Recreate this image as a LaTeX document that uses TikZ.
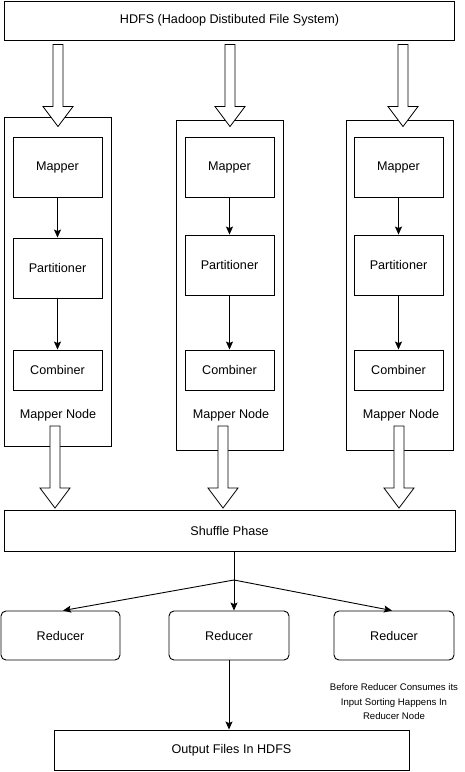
\documentclass[tikz,border=0pt]{standalone}
\usepackage{fontspec}
\setmainfont{Liberation Sans}
\usetikzlibrary{arrows.meta}
\begin{document}
\begin{tikzpicture}[x=1pt,y=-1pt,
  line width=0.9pt,
  every node/.style={font=\fontsize{12.6}{15}\selectfont},
  box/.style={draw, rectangle, inner sep=0pt},
  rbox/.style={draw, rectangle, rounded corners=5pt, inner sep=0pt},
  lbl/.style={inner sep=0pt},
  note/.style={inner sep=0pt, align=center, font=\fontsize{9.6}{14.5}\selectfont},
  arr/.style={-{Stealth[length=8pt,width=7pt,inset=1.5pt]}},
  barrow/.pic={\draw[fill=white, line width=0.8pt] (-5,0) -- (-5,62) -- (-15,62) -- (0,82) -- (15,62) -- (5,62) -- (5,0) -- cycle;}
]
\useasboundingbox (0,0) rectangle (465,772);

% top
\node[box, minimum width=450pt, minimum height=39pt] (hdfs) at (229.5,20.5) {HDFS (Hadoop Distibuted File System)};

% containers
\node[box, minimum width=107pt, minimum height=329pt] (c1) at (57.5,281.5) {};
\node[box, minimum width=107pt, minimum height=330pt] (c2) at (229.5,285) {};
\node[box, minimum width=107pt, minimum height=330pt] (c3) at (399.5,285) {};

% top block arrows
\pic at (58,44.5) {barrow};
\pic at (230,44.5) {barrow};
\pic at (403,44.5) {barrow};

% mappers
\node[box, minimum width=89pt, minimum height=60pt] (m1) at (57.5,167) {Mapper};
\node[box, minimum width=89pt, minimum height=60pt] (m2) at (229.5,167) {Mapper};
\node[box, minimum width=89pt, minimum height=60pt] (m3) at (398.5,167) {Mapper};

% partitioners
\node[box, minimum width=89pt, minimum height=60pt] (p1) at (57.5,268) {Partitioner};
\node[box, minimum width=89pt, minimum height=60pt] (p2) at (229.5,265) {Partitioner};
\node[box, minimum width=89pt, minimum height=60pt] (p3) at (398.5,265) {Partitioner};

% combiners
\node[box, minimum width=89pt, minimum height=40pt] (k1) at (57.5,370) {Combiner};
\node[box, minimum width=89pt, minimum height=40pt] (k2) at (229.5,370) {Combiner};
\node[box, minimum width=89pt, minimum height=40pt] (k3) at (398.5,370) {Combiner};

% mapper node labels
\node[lbl] (ml1) at (58,415) {Mapper Node};
\node[lbl] (ml2) at (231,415) {Mapper Node};
\node[lbl] (ml3) at (401,415) {Mapper Node};

% internal arrows
\draw[arr] (m1) -- (p1);
\draw[arr] (m2) -- (p2);
\draw[arr] (m3) -- (p3);
\draw[arr] (p1) -- (k1);
\draw[arr] (p2) -- (k2);
\draw[arr] (p3) -- (k3);

% bottom block arrows
\pic at (55,426) {barrow};
\pic at (223,426) {barrow};
\pic at (399,426) {barrow};

% shuffle
\node[box, minimum width=451pt, minimum height=41pt, fill=white] (sh) at (229.5,530.5) {Shuffle Phase};

% reducers
\node[rbox, minimum width=119pt, minimum height=49pt] (r1) at (60.5,635.5) {Reducer};
\node[rbox, minimum width=120pt, minimum height=49pt] (r2) at (229,635.5) {Reducer};
\node[rbox, minimum width=120pt, minimum height=49pt] (r3) at (394,635.5) {Reducer};

\coordinate (split) at (234,580);
\draw (sh.south -| split) -- (split);
\draw[arr] (split) -- (r1.north -| 63,0);
\draw[arr] (split) -- (r2.north -| split);
\draw[arr] (split) -- (r3.north -| 392,0);

% output
\node[box, minimum width=355pt, minimum height=40pt] (out) at (231.5,750) {Output Files In HDFS};
\draw[arr] (r2.south -| 229,0) -- (out.north -| 229,0);

% note
\node[note] (nt) at (394,702) {Before Reducer Consumes its\\Input Sorting Happens In\\Reducer Node};
\end{tikzpicture}
\end{document}
